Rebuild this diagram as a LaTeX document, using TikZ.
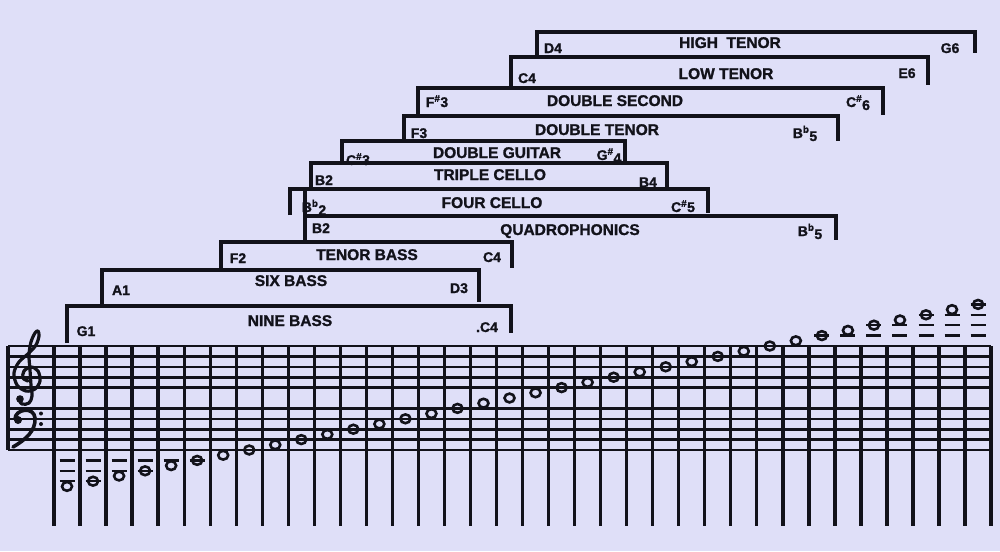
\documentclass[tikz,border=0pt]{standalone}
\usepackage{fontspec}
\setmainfont{Liberation Sans}
\newfontfamily\heavyfont[FakeBold=1.3]{Liberation Sans Bold}
\usetikzlibrary{positioning}

\definecolor{paper}{RGB}{223,223,248}
\definecolor{ink}{RGB}{18,18,26}

% accidentals in the range labels
\newcommand{\shp}{\textsuperscript{\#}}
\newcommand{\flt}{\textsuperscript{b}}
\newcommand{\lowd}[1]{\raisebox{-3pt}{#1}}

% one range bracket: name, left x, right x, top y, left foot y, right foot y
\newcommand{\rangebar}[6]{%
  \coordinate (#1-bl) at (#2,#5);
  \coordinate (#1-tl) at (#2,#4);
  \coordinate (#1-tr) at (#3,#4);
  \coordinate (#1-br) at (#3,#6);
  \draw[barline] (#1-bl) -- (#1-tl) -- (#1-tr) -- (#1-br);
}

\begin{document}
\begin{tikzpicture}[x=1pt, y=-1pt,
    barline/.style={ink, line width=3.6pt, line join=miter},
    staffline/.style={ink, line width=2.6pt},
    gridline/.style={ink, line width=3.3pt},
    ledger/.style={ink, line width=2.4pt},
    notehead/.style={ink, line width=2.6pt},
    clefline/.style={ink, line width=3.2pt, line cap=round, line join=round},
    rangename/.style={font=\fontsize{15.5}{16}\heavyfont, text=ink, inner sep=0pt, anchor=base},
    pitchlbl/.style={font=\fontsize{14}{14}\heavyfont, text=ink, inner sep=0pt, anchor=base}]
    \fill[paper] (0,0) rectangle (1000,551);
    \useasboundingbox (0,0) rectangle (1000,551);

    % ranges
    \rangebar{ht}{537}{975}{32}{57}{53}
    \node[rangename] (ht-name) at (730,48) {HIGH\ \ TENOR};
    \node[pitchlbl] (ht-lo) at (553,53) {D4};
    \node[pitchlbl] (ht-hi) at (950,53) {G6};

    \rangebar{lt}{511}{928}{57}{88}{85}
    \node[rangename] (lt-name) at (726,79) {LOW TENOR};
    \node[pitchlbl] (lt-lo) at (527,83) {C4};
    \node[pitchlbl] (lt-hi) at (907,78) {E6};

    \rangebar{ds}{418}{883}{88}{117}{115}
    \node[rangename] (ds-name) at (615,106) {DOUBLE SECOND};
    \node[pitchlbl] (ds-lo) at (437,107) {F\shp3};
    \node[pitchlbl] (ds-hi) at (858,107) {C\shp\lowd{6}};

    \rangebar{dt}{404}{838}{116}{141}{141}
    \node[rangename] (dt-name) at (597,135) {DOUBLE TENOR};
    \node[pitchlbl] (dt-lo) at (419,138) {F3};
    \node[pitchlbl] (dt-hi) at (805,138) {B\flt\lowd{5}};

    \rangebar{dg}{342}{625}{141}{163}{162}
    \node[rangename] (dg-name) at (497,158) {DOUBLE GUITAR};
    \node[pitchlbl] (dg-lo) at (358,165) {C\shp3};
    \node[pitchlbl] (dg-hi) at (609,160) {G\shp\lowd{4}};

    \rangebar{tc}{311}{667}{163}{189}{187}
    \node[rangename] (tc-name) at (490,180) {TRIPLE CELLO};
    \node[pitchlbl] (tc-lo) at (324,185) {B2};
    \node[pitchlbl] (tc-hi) at (648,187) {B4};

    \rangebar{fc}{290}{708}{189}{215}{213}
    \node[rangename] (fc-name) at (492,208) {FOUR CELLO};
    \node[pitchlbl] (fc-lo) at (314,212) {B\flt\lowd{2}};
    \node[pitchlbl] (fc-hi) at (683,212) {C\shp5};

    \rangebar{qu}{305}{836}{216}{242}{240}
    \draw[barline] (qu-tl) -- (qu-tl |- fc-tl);
    \node[rangename] (qu-name) at (570,235) {QUADROPHONICS};
    \node[pitchlbl] (qu-lo) at (321,233) {B2};
    \node[pitchlbl] (qu-hi) at (810,236) {B\flt\lowd{5}};

    \rangebar{tb}{221}{512}{242}{270}{268}
    \node[rangename] (tb-name) at (367,260) {TENOR BASS};
    \node[pitchlbl] (tb-lo) at (238,263) {F2};
    \node[pitchlbl] (tb-hi) at (492,262) {C4};

    \rangebar{sb}{102}{479}{270}{306}{302}
    \node[rangename] (sb-name) at (291,286) {SIX BASS};
    \node[pitchlbl] (sb-lo) at (121,295) {A1};
    \node[pitchlbl] (sb-hi) at (459,293) {D3};

    \rangebar{nb}{67}{511}{306}{343}{333}
    \node[rangename] (nb-name) at (290,326) {NINE BASS};
    \node[pitchlbl] (nb-lo) at (86,336) {G1};
    \node[pitchlbl] (nb-hi) at (487,332) {.C4};

    % grand staff and string columns
    \foreach \sy in {346,356.4,366.8,377.2,387.6,408.4,418.8,429.2,439.6,450}
        \draw[staffline] (8,\sy) -- (991,\sy);
    \draw[gridline] (8,346) -- (8,450);
    \foreach \i in {0,...,36} {
        \pgfmathsetmacro{\gx}{54+26.03*\i}
        \draw[gridline] (\gx,346) -- (\gx,526);
    }

    % clefs
    \fill[ink] (20,399) circle[radius=3.8pt];
    \draw[clefline] plot[smooth, tension=0.55] coordinates {(18,398) (22,404) (29,403) (32,396) (31,385) (30,370) (29,355) (31,342) (35,333) (38,331) (39,336) (36,345) (29,353) (19,362) (14,373) (17,385) (26,391) (35,389) (40,381) (38,371) (31,367) (24,371) (23,378) (28,381)};
    \fill[ink] (18,420) circle[radius=4pt];
    \draw[clefline, line width=3.6pt] (15,419) .. controls (15,409) and (34,406) .. (35,418) .. controls (36,431) and (25,440) .. (13,447);
    \fill[ink] (41,413.5) circle[radius=2pt];
    \fill[ink] (41,424) circle[radius=2pt];

    % open strings, G1 up to G6
    \foreach \i in {0,...,35} {
        \pgfmathsetmacro{\nx}{54+26.03*(\i+0.5)}
        \pgfmathsetmacro{\ny}{450-5.2*(\i-7)}
        \draw[notehead] (\nx,\ny) ellipse [x radius=5pt, y radius=4.4pt];
    }
    \foreach \n/\k in {0/1,0/3,0/5,1/1,1/3,1/5,2/3,2/5,3/3,3/5,4/5,5/5,
                       29/29,30/29,31/29,31/31,32/29,32/31,33/29,33/31,33/33,
                       34/29,34/31,34/33,35/29,35/31,35/33,35/35} {
        \pgfmathsetmacro{\lx}{54+26.03*(\n+0.5)}
        \pgfmathsetmacro{\ly}{450-5.2*(\k-7)}
        \draw[ledger] ({\lx-7.5},\ly) -- ({\lx+7.5},\ly);
    }
\end{tikzpicture}
\end{document}
